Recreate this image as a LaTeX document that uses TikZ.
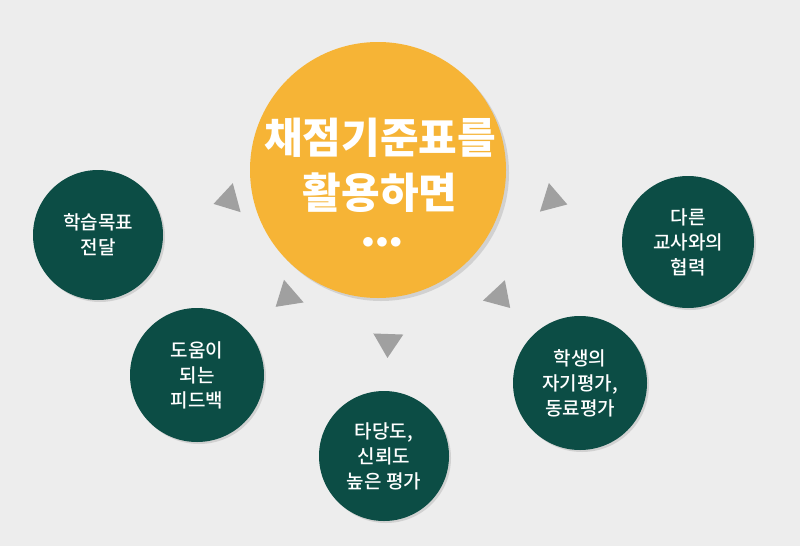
\documentclass[tikz,border=0pt]{standalone}
\usepackage{fontspec}
\newfontfamily\kr{Noto Sans CJK KR Medium}
\newfontfamily\krb{Noto Sans CJK KR Black}
\usetikzlibrary{calc,shadows}
\definecolor{bg}{HTML}{EDEDED}
\definecolor{big}{HTML}{F6B436}
\definecolor{teal}{HTML}{0C4D45}
\definecolor{tri}{HTML}{A0A0A0}
\tikzset{
 smallc/.style={circle,fill=teal,minimum size=#1,inner sep=0pt,text=white,align=center,font=\kr\fontsize{19}{25}\selectfont,drop shadow={opacity=0.25,shadow xshift=2pt,shadow yshift=-2pt}},
 bigc/.style={circle,fill=big,minimum size=256pt,inner sep=0pt,text=white,align=center,drop shadow={opacity=0.25,shadow xshift=3pt,shadow yshift=-3pt}},
}
\newcommand{\arr}[2]{%
 \coordinate (b0) at ($(#1)!-9pt!(#2)$);
 \fill[tri] ($(#1)!15pt!(#2)$) -- ($(b0)!15pt!90:(#2)$) -- ($(b0)!15pt!-90:(#2)$) -- cycle;}
\begin{document}
\begin{tikzpicture}[x=1pt,y=-1pt]
\fill[bg] (0,0) rectangle (800,546);
\useasboundingbox (0,0) rectangle (800,546);
\node[bigc] (B) at (378,170) {};
\node[text=white,font=\krb\fontsize{42}{55}\selectfont,align=center] (T) at (380,165) {채점기준표를\\활용하면};
\node[text=white,font=\krb\fontsize{28}{30}\selectfont] (D) at (382,243) {$\bullet\!\bullet\!\bullet$};
\node[smallc=130pt] (c1) at (98,235) {학습목표\\전달};
\node[smallc=132pt] (c2) at (688,242) {다른\\교사와의\\협력};
\node[smallc=134pt] (c3) at (197,375) {도움이\\되는\\피드백};
\node[smallc=130pt] (c4) at (384,456) {타당도,\\신뢰도\\높은 평가};
\node[smallc=134pt] (c5) at (580,383) {학생의\\자기평가,\\동료평가};
\coordinate (t1) at (228,200);
\coordinate (t2) at (553,200);
\coordinate (t3) at (287,297);
\coordinate (t4) at (388,343);
\coordinate (t5) at (500,297);
\arr{t1}{c1}\arr{t2}{c2}\arr{t3}{c3}\arr{t4}{c4}\arr{t5}{c5}
\end{tikzpicture}
\end{document}
